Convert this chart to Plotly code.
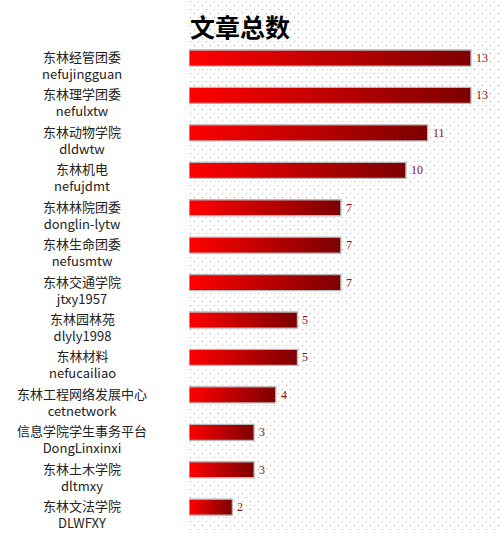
import base64
import plotly.graph_objects as go

# ---- data ----
names_cn = ["东林经管团委", "东林理学团委", "东林动物学院", "东林机电", "东林林院团委",
            "东林生命团委", "东林交通学院", "东林园林苑", "东林材料", "东林工程网络发展中心",
            "信息学院学生事务平台", "东林土木学院", "东林文法学院"]
names_id = ["nefujingguan", "nefulxtw", "dldwtw", "nefujdmt", "donglin-lytw",
            "nefusmtw", "jtxy1957", "dlyly1998", "nefucailiao", "cetnetwork",
            "DongLinxinxi", "dltmxy", "DLWFXY"]
values = [13, 13, 11, 10, 7, 7, 7, 5, 5, 4, 3, 3, 2]
title_text = "文章总数"

W, H = 502, 533
ML = 189
half = 0.214  # half bar thickness in category units

fig = go.Figure()

# bars as gradient-filled polygons built from the data values
for i, v in enumerate(values):
    fig.add_trace(go.Scatter(
        x=[0, v, v, 0, 0],
        y=[i - half, i - half, i + half, i + half, i - half],
        mode="lines",
        fill="toself",
        fillgradient=dict(type="horizontal",
                          colorscale=[[0, "#ff0000"], [1, "#7c0000"]]),
        line=dict(color="#b8b8b8", width=1.3),
        hoverinfo="text",
        text=f"{names_cn[i]}: {v}",
        showlegend=False,
    ))

annotations = []
for i, v in enumerate(values):
    annotations.append(dict(
        x=v, y=i, xref="x", yref="y", text=str(v), showarrow=False,
        xanchor="left", yanchor="middle", xshift=4, borderpad=0,
        font=dict(family="Liberation Serif, DejaVu Serif, serif", size=12, color="#8b1010"),
    ))
    annotations.append(dict(
        x=(82 - ML) / (W - ML), y=i, xref="paper", yref="y",
        text=f"{names_cn[i]}<br>{names_id[i]}",
        showarrow=False, xanchor="center", yanchor="middle", yshift=-7,
        align="center", borderpad=0, borderwidth=0,
        font=dict(family="Noto Sans CJK SC, sans-serif", size=13, color="#222"),
    ))

# dotted background pattern
pw, ph = W - ML, H
svg = (f"<svg xmlns='http://www.w3.org/2000/svg' width='{pw}' height='{ph}'>"
       "<defs><pattern id='p' width='8' height='8' patternUnits='userSpaceOnUse'>"
       "<rect x='1' y='1' width='1' height='1' fill='#a8a8a8'/>"
       "<rect x='5' y='5' width='1' height='1' fill='#a8a8a8'/>"
       "</pattern></defs>"
       f"<rect width='{pw}' height='{ph}' fill='url(#p)'/></svg>")
src = "data:image/svg+xml;base64," + base64.b64encode(svg.encode()).decode()

fig.update_layout(
    width=W, height=H,
    margin=dict(l=ML, r=0, t=0, b=0),
    paper_bgcolor="white",
    plot_bgcolor="rgba(0,0,0,0)",
    title=dict(text=f"<b>{title_text}</b>", x=190 / W, xanchor="left",
               y=1 - 28 / H, yanchor="middle",
               font=dict(family="Noto Sans CJK SC, sans-serif", size=25, color="#000")),
    xaxis=dict(range=[0, 14.43], visible=False, fixedrange=True),
    yaxis=dict(range=[12.69, -1.55], visible=False, fixedrange=True),
    annotations=annotations,
    images=[dict(source=src, xref="paper", yref="paper", x=0, y=1,
                 sizex=1, sizey=1, xanchor="left", yanchor="top",
                 sizing="stretch", layer="below")],
)

fig.write_html(
    "out.html",
    config={"displayModeBar": False},
    post_script="document.body.style.margin='0';document.body.style.overflow='hidden';",
)
